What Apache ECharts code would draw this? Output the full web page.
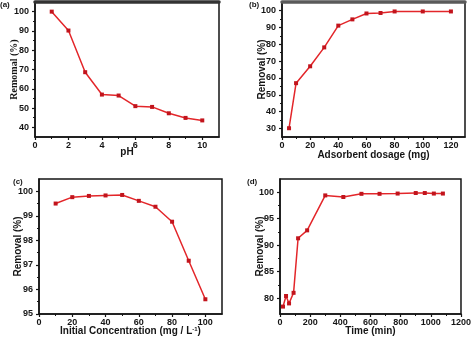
<!DOCTYPE html>
<html>
<head>
<meta charset="utf-8">
<script src="https://cdn.jsdelivr.net/npm/echarts@6/dist/echarts.min.js"></script>
<style>
  html, body { margin: 0; padding: 0; background: #fff; }
  #chart { width: 474px; height: 337px; }
</style>
</head>
<body>
<div id="chart"></div>
<script>
// (a) effect of pH
const phValues = [1, 2, 3, 4, 5, 6, 7, 8, 9, 10];
const phRemoval = [100, 90.2, 68.6, 57.0, 56.5, 51.0, 50.6, 47.3, 44.9, 43.6];
const phTicks = [0, 2, 4, 6, 8, 10];
const phMinorTicks = [1, 3, 5, 7, 9];
const phRemovalTicks = [40, 50, 60, 70, 80, 90, 100];
const phRemovalMinor = [45, 55, 65, 75, 85, 95];

// (b) effect of adsorbent dosage
const dosage = [5, 10, 20, 30, 40, 50, 60, 70, 80, 100, 120];
const dosageRemoval = [30.2, 56.9, 66.9, 78.1, 91.0, 94.7, 98.2, 98.5, 99.4, 99.4, 99.4];
const dosageTicks = [0, 20, 40, 60, 80, 100, 120];
const dosageMinorTicks = [10, 30, 50, 70, 90, 110];
const dosageRemovalTicks = [30, 40, 50, 60, 70, 80, 90, 100];
const dosageRemovalMinor = [35, 45, 55, 65, 75, 85, 95];

// (c) effect of initial concentration
const concentration = [10, 20, 30, 40, 50, 60, 70, 80, 90, 100];
const concRemoval = [99.5, 99.76, 99.81, 99.83, 99.85, 99.61, 99.37, 98.76, 97.17, 95.6];
const concTicks = [0, 20, 40, 60, 80, 100];
const concMinorTicks = [10, 30, 50, 70, 90];
const concRemovalTicks = [95, 96, 97, 98, 99, 100];
const concRemovalMinor = [95.5, 96.5, 97.5, 98.5, 99.5];

// (d) effect of contact time
const time = [20, 40, 60, 90, 120, 180, 300, 420, 540, 660, 780, 900, 960, 1020, 1080];
const timeRemoval = [78.4, 80.4, 79.0, 81.0, 91.3, 92.8, 99.4, 99.1, 99.7, 99.7, 99.75, 99.85, 99.85, 99.75, 99.75];
const timeTicks = [0, 200, 400, 600, 800, 1000, 1200];
const timeMinorTicks = [100, 300, 500, 700, 900, 1100];
const timeRemovalTicks = [80, 85, 90, 95, 100];
const timeRemovalMinor = [82.5, 87.5, 92.5, 97.5];

const INK = '#151515';
const LABEL_FONT = { fontFamily: 'Liberation Sans', fontWeight: 'bold', fontSize: 9, color: INK };
const plain = v => String(v);

const panels = [
  {
    grid: { left: 35, top: 2, width: 184, height: 135 },
    x: phValues, y: phRemoval, xMin: 0, xMax: 11, yMin: 35, yMax: 105,
    xTicks: phTicks, xMinor: phMinorTicks, yTicks: phRemovalTicks, yMinor: phRemovalMinor,
    xName: 'pH', xGap: 10, yName: 'Remomal (%)', yGap: 16, yFont: 'Liberation Serif', yFontSize: 10,
    topBar: '#333333'
  },
  {
    grid: { left: 282, top: 2, width: 183, height: 135 },
    x: dosage, y: dosageRemoval, xMin: 0, xMax: 130, yMin: 25, yMax: 105,
    xTicks: dosageTicks, xMinor: dosageMinorTicks, yTicks: dosageRemovalTicks, yMinor: dosageRemovalMinor,
    xName: 'Adsorbent dosage (mg)', xGap: 13, yName: 'Removal (%)', yGap: 15, yFont: 'Liberation Sans', yFontSize: 10,
    topBar: '#5a5a5a'
  },
  {
    grid: { left: 39, top: 179, width: 183, height: 135 },
    x: concentration, y: concRemoval, xMin: 0, xMax: 110, yMin: 95, yMax: 100.5,
    xTicks: concTicks, xMinor: concMinorTicks, yTicks: concRemovalTicks, yMinor: concRemovalMinor,
    xName: 'Initial Concentration (mg / L{sup|-1})', xGap: 12, yName: 'Removal (%)', yGap: 16, yFont: 'Liberation Sans', yFontSize: 10
  },
  {
    grid: { left: 280, top: 179, width: 185, height: 135 },
    x: time, y: timeRemoval, xMin: 0, xMax: 1200, yMin: 77, yMax: 102.5,
    xTicks: timeTicks, xMinor: timeMinorTicks, yTicks: timeRemovalTicks, yMinor: timeRemovalMinor,
    xName: 'Time (min)', xGap: 12, yName: 'Removal (%)', yGap: 15, yFont: 'Liberation Sans', yFontSize: 10
  }
];

const grids = [], xAxes = [], yAxes = [], series = [];

panels.forEach((p, i) => {
  grids.push(Object.assign({
    show: true, borderColor: INK, borderWidth: 1.5, backgroundColor: 'transparent'
  }, p.grid));

  const xIndex = xAxes.length;
  // main bottom axis with labels and major ticks
  xAxes.push({
    type: 'value', gridIndex: i, position: 'bottom', min: p.xMin, max: p.xMax,
    name: p.xName, nameLocation: 'middle', nameGap: p.xGap, nameMoveOverlap: false,
    nameTextStyle: {
      fontFamily: 'Liberation Sans', fontWeight: 'bold', fontSize: 10, color: INK,
      rich: { sup: { fontFamily: 'Liberation Sans', fontWeight: 'bold', fontSize: 6, color: INK, verticalAlign: 'top', padding: [0, 0, 4, 0] } }
    },
    axisLine: { show: true, onZero: false, lineStyle: { color: INK, width: 1.5 } },
    axisTick: { show: true, inside: false, length: 3, customValues: p.xTicks, lineStyle: { color: INK, width: 1.2 } },
    axisLabel: Object.assign({ margin: 4, customValues: p.xTicks, formatter: plain }, LABEL_FONT),
    splitLine: { show: false }
  });
  // minor ticks on the bottom axis
  xAxes.push({
    type: 'value', gridIndex: i, position: 'bottom', min: p.xMin, max: p.xMax,
    axisLine: { show: false, onZero: false },
    axisTick: { show: true, inside: false, length: 2, customValues: p.xMinor, lineStyle: { color: INK, width: 1 } },
    axisLabel: { show: false, customValues: p.xMinor },
    splitLine: { show: false }
  });
  if (p.topBar) {
    xAxes.push({
      type: 'value', gridIndex: i, position: 'top', min: p.xMin, max: p.xMax,
      axisLine: { show: true, onZero: false, lineStyle: { color: p.topBar, width: 3.5 } },
      axisTick: { show: false }, axisLabel: { show: false }, splitLine: { show: false }
    });
  }

  const yIndex = yAxes.length;
  yAxes.push({
    type: 'value', gridIndex: i, position: 'left', min: p.yMin, max: p.yMax,
    name: p.yName, nameLocation: 'middle', nameGap: p.yGap, nameMoveOverlap: false,
    nameTextStyle: { fontFamily: p.yFont, fontWeight: 'bold', fontSize: p.yFontSize, color: INK },
    axisLine: { show: true, onZero: false, lineStyle: { color: INK, width: 1.5 } },
    axisTick: { show: true, inside: false, length: 3, customValues: p.yTicks, lineStyle: { color: INK, width: 1.2 } },
    axisLabel: Object.assign({ margin: 6, customValues: p.yTicks, formatter: plain }, LABEL_FONT),
    splitLine: { show: false }
  });
  yAxes.push({
    type: 'value', gridIndex: i, position: 'left', min: p.yMin, max: p.yMax,
    axisLine: { show: false, onZero: false },
    axisTick: { show: true, inside: false, length: 2, customValues: p.yMinor, lineStyle: { color: INK, width: 1 } },
    axisLabel: { show: false, customValues: p.yMinor },
    splitLine: { show: false }
  });

  series.push({
    type: 'line', xAxisIndex: xIndex, yAxisIndex: yIndex,
    data: p.x.map((v, k) => [v, p.y[k]]),
    symbol: 'rect', symbolSize: 4,
    itemStyle: { color: '#c2141c' },
    lineStyle: { color: '#e3262a', width: 1.5 },
    animation: false, silent: true
  });
});

const panelTags = [
  { text: '(a)', left: 0, top: 1 },
  { text: '(b)', left: 249, top: 1 },
  { text: '(c)', left: 13, top: 178 },
  { text: '(d)', left: 247, top: 178 }
];

const chart = echarts.init(document.getElementById('chart'), null, { renderer: 'canvas' });
chart.setOption({
  backgroundColor: '#ffffff',
  animation: false,
  title: panelTags.map(t => ({
    text: t.text, left: t.left, top: t.top, padding: 0,
    textStyle: { fontFamily: 'Liberation Sans', fontWeight: 'bold', fontSize: 8, color: INK }
  })),
  grid: grids,
  xAxis: xAxes,
  yAxis: yAxes,
  series: series
});
</script>
</body>
</html>
